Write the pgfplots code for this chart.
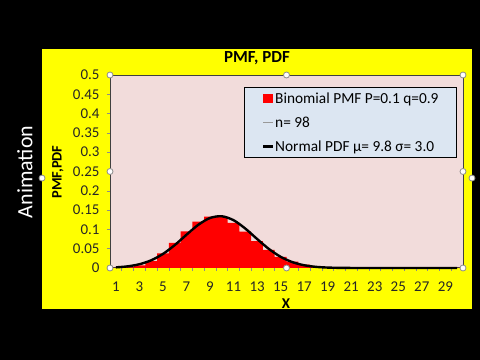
\documentclass[border=0pt]{standalone}
\usepackage{fontspec}
\setmainfont{Carlito}
\usepackage{pgfplots}
\pgfplotsset{compat=1.18}
\definecolor{chartyellow}{HTML}{FFFF00}
\definecolor{plotpink}{HTML}{F2DCDB}
\definecolor{legblue}{HTML}{DCE6F2}
\definecolor{barred}{HTML}{FF0000}
\pgfplotstableread{
k pmf
1 0.000357
2 0.001925
3 0.00684
4 0.01806
5 0.03772
6 0.06497
7 0.09487
8 0.11991
9 0.13323
10 0.13175
11 0.11711
12 0.09434
13 0.06934
14 0.04678
15 0.02911
16 0.01678
17 0.00899
18 0.00450
19 0.00210
20 0.00092
21 0.00038
22 0.00015
23 0.00005
24 0.00002
25 0
26 0
27 0
28 0
29 0
30 0
}\pmftable
\pgfplotstableread{
x pdf
1 0.001667
2 0.004268
3 0.009767
4 0.01995
5 0.03639
6 0.05925
7 0.08613
8 0.11179
9 0.12955
10 0.13403
11 0.12380
12 0.10210
13 0.07517
14 0.04942
15 0.02900
16 0.01520
17 0.00711
18 0.00297
19 0.00111
20 0.00037
21 0.00011
22 0.00003
23 0
24 0
25 0
26 0
27 0
28 0
29 0
30 0
}\pdftable
\begin{document}
\begin{tikzpicture}
\fill[black] (0bp,0bp) rectangle (480bp,360bp);
\fill[chartyellow] (42bp,51bp) rectangle (472bp,311bp);
\node[font=\fontsize{17}{19}\selectfont\bfseries] at (257bp,302bp) {PMF, PDF};
\node[rotate=90, font=\fontsize{14.5}{16}\selectfont\bfseries] at (58bp,188bp) {PMF,PDF};
\node[font=\fontsize{15}{16}\selectfont\bfseries] at (286bp,56bp) {X};
\node[rotate=90, text=white, font=\fontsize{22}{24}\selectfont] at (25bp,188bp) {Animation};
\begin{axis}[
  at={(110bp,92bp)}, anchor=south west,
  scale only axis, width=353bp, height=193bp,
  xmin=0.5, xmax=30.5, ymin=0, ymax=0.5,
  clip=false,
  axis background/.style={fill=plotpink},
  axis line style={draw=black!75, line width=1bp},
  xtick={1,3,...,29},
  minor xtick={0.5,1.5,...,30.5},
  ytick={0,0.05,0.1,0.15,0.2,0.25,0.3,0.35,0.4,0.45,0.5},
  xtick pos=bottom, ytick pos=left,
  tick align=outside,
  major x tick style={draw=none},
  minor tick length=3bp, major tick length=3bp,
  tick style={draw=black!45, line width=0.6bp},
  /pgf/number format/assume math mode=true,
  yticklabel style={font=\fontsize{15}{16}\selectfont, /pgf/number format/fixed, /pgf/number format/precision=2, text=black!85, xshift=-4bp},
  xticklabel style={font=\fontsize{15}{16}\selectfont, text=black!85, yshift=-7bp},
  legend cell align=left,
  legend style={at={(0.983,0.938)}, anchor=north east, fill=legblue, draw=black, line width=1bp,
    font=\fontsize{15.4}{17}\selectfont, inner xsep=17bp, inner ysep=3bp, row sep=8bp,
    nodes={inner xsep=1bp}},
]
\addplot[ybar, bar width=1, fill=barred, draw=none,
  legend image code/.code={\fill[barred] (0bp,-4.5bp) rectangle (10bp,4.5bp);}]
  table[x=k, y=pmf] {\pmftable};
\addlegendentry{Binomial PMF P=0.1 q=0.9}
\addlegendimage{legend image code/.code={\draw[black!40, line width=0.6bp] (0bp,0bp) -- (10bp,0bp);}}
\addlegendentry{n= 98}
\addplot[black, line width=2.4bp, smooth, no marks,
  legend image code/.code={\draw[black, line width=2.4bp] (0bp,0bp) -- (10bp,0bp);}]
  table[x=x, y=pdf] {\pdftable};
\addlegendentry{Normal PDF μ= 9.8 σ= 3.0}
\filldraw[fill=white, draw=black!45, line width=0.8bp] (rel axis cs:0,0) circle[radius=3bp];
\filldraw[fill=white, draw=black!45, line width=0.8bp] (rel axis cs:0.5,0) circle[radius=3bp];
\filldraw[fill=white, draw=black!45, line width=0.8bp] (rel axis cs:1,0) circle[radius=3bp];
\filldraw[fill=white, draw=black!45, line width=0.8bp] (rel axis cs:0,0.5) circle[radius=3bp];
\filldraw[fill=white, draw=black!45, line width=0.8bp] (rel axis cs:1,0.5) circle[radius=3bp];
\filldraw[fill=white, draw=black!45, line width=0.8bp] (rel axis cs:0,1) circle[radius=3bp];
\filldraw[fill=white, draw=black!45, line width=0.8bp] (rel axis cs:0.5,1) circle[radius=3bp];
\filldraw[fill=white, draw=black!45, line width=0.8bp] (rel axis cs:1,1) circle[radius=3bp];
\filldraw[fill=white, draw=black!45, line width=0.8bp] (rel axis cs:-0.1926,0.466) circle[radius=3bp];
\filldraw[fill=white, draw=black!45, line width=0.8bp] (rel axis cs:1.0255,0.466) circle[radius=3bp];
\end{axis}
\end{tikzpicture}
\end{document}
